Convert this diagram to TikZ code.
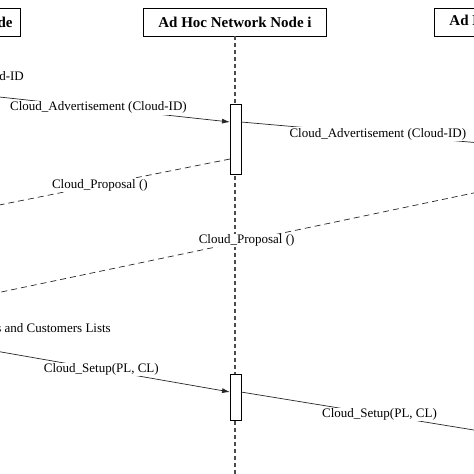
\documentclass[tikz,border=0pt]{standalone}
\usepackage{fontspec}
\setmainfont{Liberation Serif}
\usetikzlibrary{arrows.meta}
\begin{document}
\begin{tikzpicture}[x=1pt, y=-1pt,
    head/.style = {draw, line width=0.9pt, fill=white, minimum height=28pt, inner xsep=15pt, font=\fontsize{15}{18}\selectfont\bfseries},
    life/.style = {line width=1.4pt, dash pattern=on 4pt off 3pt, black!70},
    act/.style = {draw, line width=0.8pt, fill=white, minimum width=11pt, inner sep=0pt},
    msg/.style = {-{Latex[length=8pt,width=5pt]}, line width=0.7pt, draw=black!85},
    reply/.style = {msg, dash pattern=on 6pt off 4pt},
    lbl/.style = {fill=white, text=black, inner sep=1pt, font=\fontsize{13}{15}\selectfont},
    note/.style = {inner sep=0pt, font=\fontsize{13}{15}\selectfont}]
  \useasboundingbox (0,0) rectangle (474,474);
  \clip (0,0) rectangle (474,474);
  % lifelines
  \node[head, anchor=east, inner xsep=8pt] (cloud) at (21,22) {Cloud Controller Node};
  \node[head] (nodei) at (235,22) {Ad Hoc Network Node i};
  \node[head, anchor=west] (nodej) at (434,22) {Ad Hoc Network Node j};
  \coordinate (cloudend) at (-56,474);
  \coordinate (iend) at (235,474);
  \coordinate (jend) at (526,474);
  \draw[life] (-56,36) -- (cloudend);
  \draw[life] (nodei) -- (iend);
  \draw[life] (nodej.south) -- (jend);
  \node[act, minimum height=70pt, anchor=north] (act1) at (235.5,104) {};
  \node[act, minimum height=46pt, anchor=north] (act2) at (235.5,374) {};
  % notes on the cloud lifeline
  \node[note, anchor=east] (idnote) at (24,76) {Cloud-ID};
  \node[note, anchor=east] (listnote) at (111,328) {Providers and Customers Lists};
  % message ends
  \coordinate (c1) at (-56,91);
  \coordinate (i1) at (230,122);
  \coordinate (i2) at (241,122);
  \coordinate (j2) at (526,147);
  \coordinate (i3) at (230,159);
  \coordinate (c3) at (-56,216);
  \coordinate (j4) at (526,182);
  \coordinate (c4) at (-56,304);
  \coordinate (c5) at (-56,342);
  \coordinate (i5) at (230,392);
  \coordinate (i6) at (241,392);
  \coordinate (j6) at (526,438.5);
  %
  \draw[msg] (c1) -- node[lbl, pos=0.54] {Cloud\_Advertisement (Cloud-ID)} (i1);
  \draw[msg] (i2) -- node[lbl, pos=0.48] {Cloud\_Advertisement (Cloud-ID)} (j2);
  \draw[reply] (i3) -- node[lbl, pos=0.455] {Cloud\_Proposal ()} (c3);
  \draw[reply] (j4) -- node[lbl, pos=0.48] {Cloud\_Proposal ()} (c4);
  \draw[msg] (c5) -- node[lbl, pos=0.55] {Cloud\_Setup(PL, CL)} (i5);
  \draw[msg] (i6) -- node[lbl, pos=0.486] {Cloud\_Setup(PL, CL)} (j6);
\end{tikzpicture}
\end{document}
